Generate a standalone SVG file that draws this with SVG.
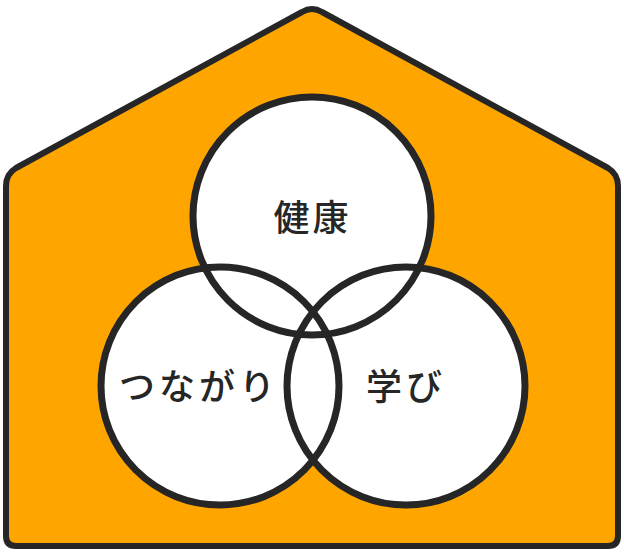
<svg xmlns="http://www.w3.org/2000/svg" width="624" height="553" viewBox="0 0 624 553">
<style>
.house{fill:#FFA500;stroke:#262626;stroke-width:6;stroke-linejoin:round}
.fill{fill:#FFFFFF;stroke:none}
.ring{fill:none;stroke:#262626;stroke-width:7}
.lbl{font-family:"Noto Sans CJK JP","Noto Sans",sans-serif;font-size:36px;font-weight:500;fill:#262626;text-anchor:middle;dominant-baseline:central}
</style>
<path class="house" d="M 6 186 Q 6 174 16 168 L 302 12 Q 312 6 322 12 L 608 168 Q 618 174 618 186 L 618 536 Q 618 546 608 546 L 16 546 Q 6 546 6 536 Z"/>
<g id="fills">
<circle class="fill" cx="312" cy="216" r="119"/>
<circle class="fill" cx="220" cy="386" r="119"/>
<circle class="fill" cx="406" cy="386" r="119"/>
</g>
<g id="node-health">
<circle class="ring" cx="312" cy="216" r="119"/>
<text class="lbl" x="312.5" y="215" letter-spacing="3">健康</text>
</g>
<g id="node-connection">
<circle class="ring" cx="220" cy="386" r="119"/>
<text class="lbl" x="199" y="384" letter-spacing="4">つながり</text>
</g>
<g id="node-learning">
<circle class="ring" cx="406" cy="386" r="119"/>
<text class="lbl" x="406" y="384" letter-spacing="4">学び</text>
</g>
<g id="connectors"></g>
</svg>
